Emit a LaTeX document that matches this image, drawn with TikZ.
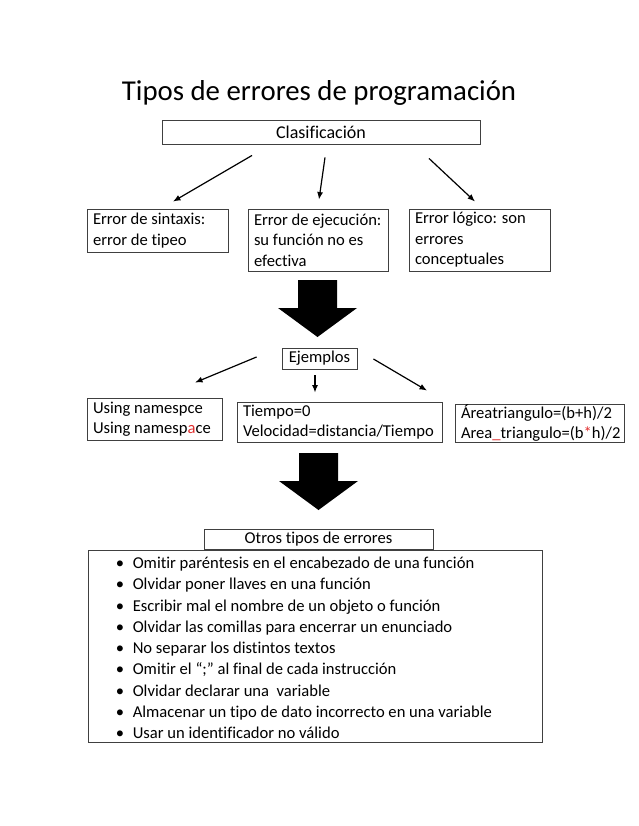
\documentclass[tikz,border=0pt]{standalone}
\usepackage{fontspec}
\setmainfont{Carlito}[Ligatures=CommonOff]
\usetikzlibrary{positioning,arrows.meta}
\definecolor{errred}{RGB}{225,45,45}
\newcommand{\bodyfont}{\fontsize{16.6}{20.5}\selectfont}

\begin{document}
\begin{tikzpicture}[
  x=1pt,y=-1pt,
  every node/.style={inner sep=0pt},
  every path/.style={>={Latex[length=7.5pt,width=6pt]}},
  box node/.style={draw=black!75,line width=0.9pt,font=\bodyfont,align=flush left,inner xsep=6pt},
  title node/.style={font=\fontsize{28.8}{34}\selectfont},
  arrow line/.style={->,line width=1.2pt},
  big arrow/.pic={\fill (-19.5,0) -- (19.5,0) -- (19.5,28) -- (39.5,28)
    -- (0,57) -- (-39.5,28) -- (-19.5,28) -- cycle;},
  ]
  \useasboundingbox (0,0) rectangle (638,826);
  \node[title node,anchor=base](title) at (319,101){Tipos de errores de programación};
  \node[box node,align=center,minimum width=318pt,minimum height=24pt,
    font=\fontsize{18}{22}\selectfont](clas) at (321,132){Clasificación};
  % tipos
  \node[box node,text width=129pt,minimum height=43pt](sint) at (157.5,230.5)
    {Error de sintaxis:\\error de tipeo};
  \node[box node,text width=128pt,minimum height=62pt](ejec) at (318,240)
    {Error de ejecución:\\su función no es\\efectiva};
  \node[box node,text width=129pt,minimum height=62pt](logi) at (479.5,240)
    {Error lógico: son\\errores\\conceptuales};
  \path[arrow line]
  ([xshift=-69pt,yshift=-11pt]clas.south) edge ([xshift=15.5pt,yshift=7pt]sint.north)
  ([xshift=4pt,yshift=-13pt]clas.south) edge ([xshift=1pt,yshift=9pt]ejec.north)
  ([xshift=108pt,yshift=-14pt]clas.south) edge ([xshift=-4.5pt,yshift=7pt]logi.north);
  \pic at (317.5,280) {big arrow};
  % ejemplos
  \node[box node,align=center,minimum width=75pt,minimum height=21pt](ejem) at (319.5,358.5){Ejemplos};
  \node[box node,text width=123pt,minimum height=42pt](using) at (154.5,419)
    {Using namespce\\Using namesp\textcolor{errred}{a}ce};
  \node[box node,text width=193pt,minimum height=40pt](tiem) at (339.5,422)
    {Tiempo=0\\Velocidad=distancia/Tiempo};
  \node[box node,text width=157pt,minimum height=38pt](area) at (539.5,423)
    {Áreatriangulo=(b+h)/2\\Area\textcolor{errred}{\_}triangulo=(b\textcolor{errred}{*}h)/2};
  \path[arrow line]
  ([xshift=-25pt,yshift=1.5pt]ejem.west) edge ([xshift=40.5pt,yshift=15pt]using.north)
  ([xshift=-4.5pt,yshift=-6pt]ejem.south) edge ([xshift=-24.5pt,yshift=9pt]tiem.north)
  ([xshift=16pt,yshift=-0.5pt]ejem.east) edge ([xshift=-112.5pt,yshift=13pt]area.north);
  \pic at (318.5,453) {big arrow};
  % otros
  \node[box node,align=center,minimum width=229pt,minimum height=20pt](otros) at (318.5,539){Otros tipos de errores};
  \node[box node,minimum width=454pt,minimum height=192pt](list) at (315,646){};
  \node[anchor=west,align=left,font=\fontsize{16.6}{21.25}\selectfont](items)
    at ([xshift=28pt,yshift=-2pt]list.west){%
    \makebox[17pt][l]{\textbullet}Omitir paréntesis en el encabezado de una función\\
    \makebox[17pt][l]{\textbullet}Olvidar poner llaves en una función\\
    \makebox[17pt][l]{\textbullet}Escribir mal el nombre de un objeto o función\\
    \makebox[17pt][l]{\textbullet}Olvidar las comillas para encerrar un enunciado\\
    \makebox[17pt][l]{\textbullet}No separar los distintos textos\\
    \makebox[17pt][l]{\textbullet}Omitir el “;” al final de cada instrucción\\
    \makebox[17pt][l]{\textbullet}Olvidar declarar una\ \ variable\\
    \makebox[17pt][l]{\textbullet}Almacenar un tipo de dato incorrecto en una variable\\
    \makebox[17pt][l]{\textbullet}Usar un identificador no válido};
\end{tikzpicture}
\end{document}
